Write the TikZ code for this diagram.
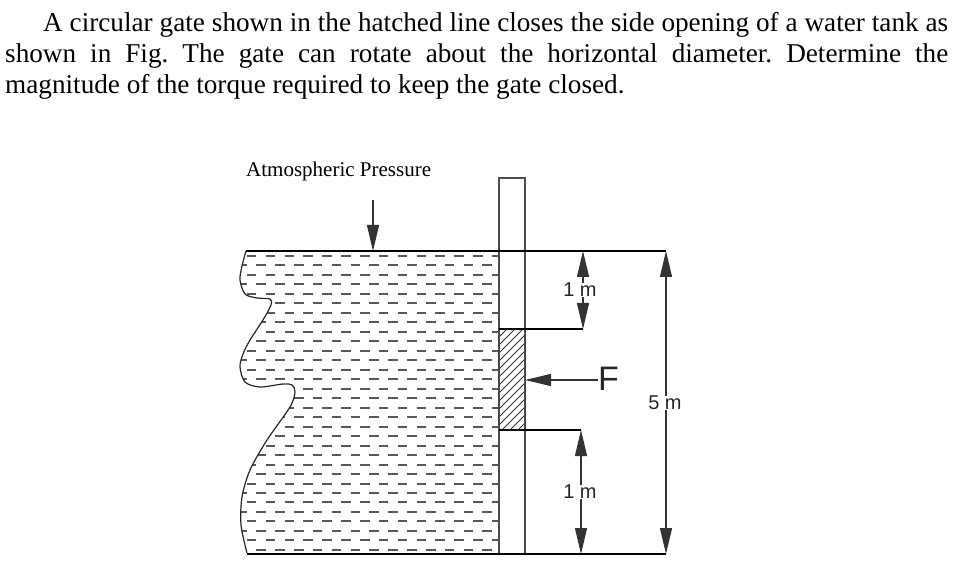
\documentclass[tikz,border=0pt]{standalone}
\usepackage{fontspec}
\setmainfont{Liberation Serif}
\newfontfamily\labelfont{Liberation Sans}
\usetikzlibrary{arrows.meta,positioning}

\tikzset{
  wall/.style={draw=black!70, line width=1.4pt},
  level/.style={draw=black, line width=1.3pt},
  waterdash/.style={draw=black!65, line width=2pt, dash pattern=on 9.6pt off 9.25pt},
  hatchline/.style={draw=black!80, line width=0.8pt},
  dimline/.style={draw=black!80, line width=1.2pt, -{Triangle[length=26pt,width=12pt]}},
  dimlabel/.style={font=\labelfont\fontsize{20}{20}\selectfont, inner sep=0pt, fill=none, text=black!85},
}
\newcommand{\tankedge}{plot[smooth,tension=0.5] coordinates {(246,251) (242,266) (240,280) (245,294) (257,298) (270,299) (271,305) (263,320) (250,340) (243,354) (240,367) (245,382) (260,387) (283,384) (292,385) (295,392) (290,407) (267,440) (250,470) (242,497) (241,525) (247,553)}}

\begin{document}
\begin{tikzpicture}[x=1pt,y=-1pt]
  \useasboundingbox (0,0) rectangle (953,561);

  % question
  \node[anchor=north west, inner sep=0pt, text width=943pt, align=justify,
        font=\fontsize{27.2}{30.6}\selectfont] (question) at (5,12.5)
    {\frenchspacing\hspace*{38pt}A circular gate shown in the hatched line closes the side opening of a water tank as\linebreak
     shown in Fig. The gate can rotate about the horizontal diameter. Determine the\linebreak
     magnitude of the torque required to keep the gate closed.};

  % water
  \begin{scope}
    \clip \tankedge -- (499,554) -- (499,251) -- cycle;
    \foreach \row in {0,...,31} {
      \pgfmathsetmacro{\rowy}{256+\row*9.48}
      \pgfmathsetmacro{\rowx}{228+mod(\row,2)*9.4}
      \draw[waterdash] (\rowx,\rowy) -- (499,\rowy);
    }
  \end{scope}
  \draw[black!85, line width=1.2pt] \tankedge;

  % wall
  \coordinate (walltl) at (499,178);
  \coordinate (walltr) at (525,178);
  \coordinate (wallbl) at (499,554);
  \coordinate (wallbr) at (525,554);
  \draw[wall] (wallbl) -- (walltl) -- (walltr) -- (wallbr);

  % gate
  \coordinate (gatetl) at (499,329);
  \coordinate (gatebr) at (525,430);
  \begin{scope}
    \clip (gatetl) rectangle (gatebr);
    \foreach \h in {0,8,...,136} {
      \draw[hatchline] (499,329+\h) -- (539,289+\h);
    }
  \end{scope}

  % levels
  \coordinate (surfl) at (246,251);
  \coordinate (surfr) at (666,251);
  \coordinate (bottoml) at (247,554);
  \coordinate (bottomr) at (666,554);
  \coordinate (gtopr) at (583,329);
  \coordinate (gbotr) at (581,430);
  \coordinate (upper) at (583,251);
  \coordinate (lower) at (581,554);
  \draw[level] (surfl) -- (surfr);
  \draw[level] (bottoml) -- (bottomr);
  \draw[level] (gatetl) -- (gtopr);
  \draw[level] (gatetl |- gbotr) -- (gbotr);

  % dimensions
  \node[dimlabel] (upperm) at (580,290) {1 m};
  \node[dimlabel] (lowerm) at (580,492) {1 m};
  \node[dimlabel] (fivem) at (665,403) {5 m};
  \draw[dimline] (upper |- upperm.north) -- (upper);
  \draw[dimline] (upper |- upperm.south) -- (gtopr);
  \draw[dimline] (gbotr |- lowerm.north) -- (gbotr);
  \draw[dimline] (gbotr |- lowerm.south) -- (lower);
  \draw[dimline] (surfr |- fivem.north) -- (surfr);
  \draw[dimline] (surfr |- fivem.south) -- (bottomr);

  % force
  \node[dimlabel, font=\labelfont\fontsize{34}{34}\selectfont, anchor=west] (force) at (598,379) {F};
  \coordinate (gatemid) at (525,380);
  \draw[dimline] (force.west |- gatemid) -- (gatemid);

  % atmosphere
  \node[anchor=west, inner sep=0pt, font=\fontsize{21}{21}\selectfont] (atm) at (246,171) {Atmospheric Pressure};
  \coordinate (atmtop) at (373,200);
  \coordinate (atmtip) at (373,251);
  \draw[dimline] (atmtop) -- (atmtip);

\end{tikzpicture}
\end{document}
